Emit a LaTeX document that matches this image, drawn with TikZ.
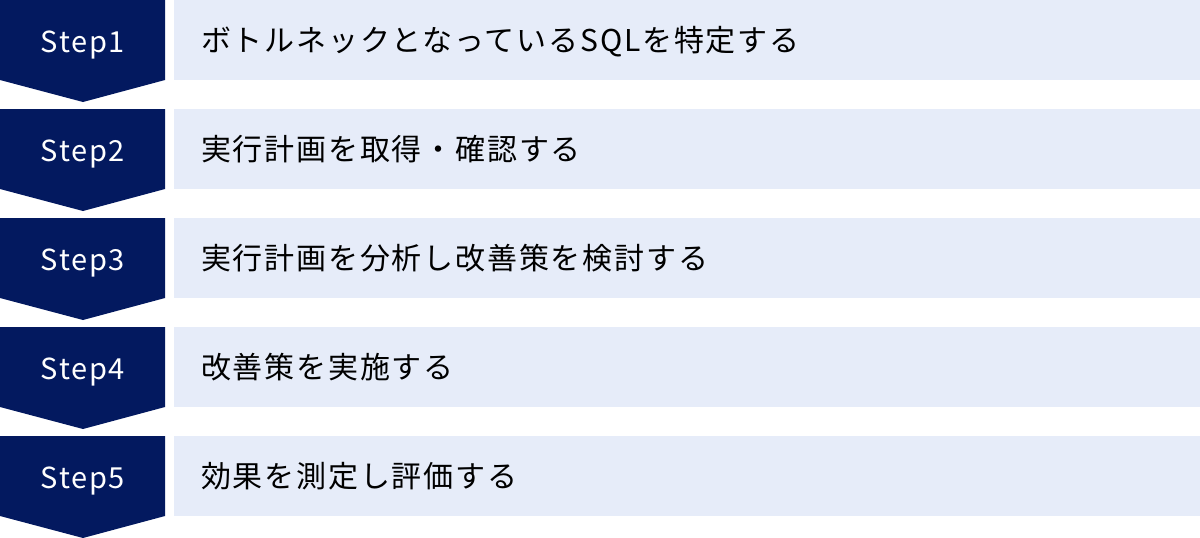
\documentclass[tikz,border=0pt]{standalone}
\usepackage{fontspec}
\setmainfont[LetterSpace=6]{Noto Sans CJK JP}
\newfontfamily\steplatin[LetterSpace=6]{Noto Sans CJK JP}
\usepackage{xcolor}
\definecolor{stepnavy}{HTML}{03195F}
\definecolor{steplight}{HTML}{E6ECF9}
\usetikzlibrary{calc}
\tikzset{
  steptag/.style={fill=stepnavy},
  stepnum/.style={text=white, anchor=base, inner sep=0pt,
    font=\steplatin\fontsize{29}{29}\selectfont},
  stepbar/.style={fill=steplight, anchor=north west, inner sep=0pt,
    minimum width=1026pt, minimum height=80pt},
  steptext/.style={anchor=base west, inner sep=0pt,
    font=\fontsize{30}{30}\selectfont}
}

\begin{document}
\begin{tikzpicture}[x=1pt, y=-1pt]
\useasboundingbox (0,0) rectangle (1200,538);
% step tags
\fill[steptag] (0,0)   -- (165,0)   -- (165,80)  -- (83,102) -- (0,80)  -- cycle;
\fill[steptag] (0,109) -- (165,109) -- (165,189) -- (83,211) -- (0,189) -- cycle;
\fill[steptag] (0,218) -- (165,218) -- (165,298) -- (83,320) -- (0,298) -- cycle;
\fill[steptag] (0,327) -- (165,327) -- (165,407) -- (83,429) -- (0,407) -- cycle;
\fill[steptag] (0,436) -- (165,436) -- (165,516) -- (83,538) -- (0,516) -- cycle;
\node[stepnum] (step1) at (83,52)  {Step1};
\node[stepnum] (step2) at (83,161) {Step2};
\node[stepnum] (step3) at (83,270) {Step3};
\node[stepnum] (step4) at (83,379) {Step4};
\node[stepnum] (step5) at (83,488) {Step5};
% bars
\node[stepbar] (bar1) at (174,0)   {};
\node[stepbar] (bar2) at (174,109) {};
\node[stepbar] (bar3) at (174,218) {};
\node[stepbar] (bar4) at (174,327) {};
\node[stepbar] (bar5) at (174,436) {};
\node[steptext] (text1) at ($(bar1.north west)+(27,51)$) {ボトルネックとなっているSQLを特定する};
\node[steptext] (text2) at ($(bar2.north west)+(27,51)$) {実行計画を取得・確認する};
\node[steptext] (text3) at ($(bar3.north west)+(27,51)$) {実行計画を分析し改善策を検討する};
\node[steptext] (text4) at ($(bar4.north west)+(27,51)$) {改善策を実施する};
\node[steptext] (text5) at ($(bar5.north west)+(27,51)$) {効果を測定し評価する};
\end{tikzpicture}
\end{document}
